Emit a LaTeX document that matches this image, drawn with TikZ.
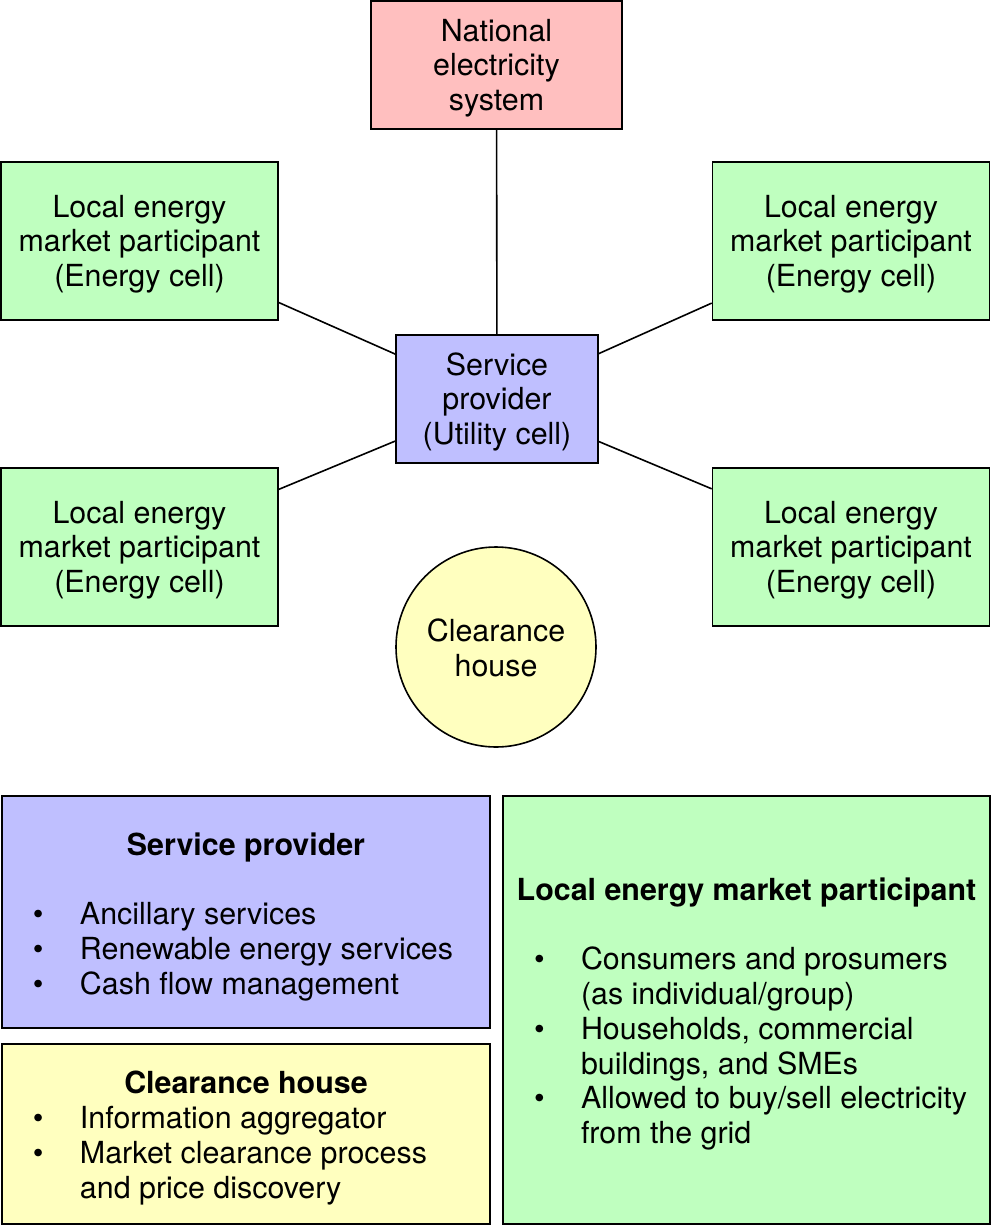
\documentclass[tikz,border=0pt]{standalone}
\usepackage{fontspec}
\setmainfont{TeX Gyre Heros}
\usepackage{array}
\usetikzlibrary{positioning}
\definecolor{natfill}{HTML}{FFBFBF}
\definecolor{cellfill}{HTML}{BFFFBF}
\definecolor{utilfill}{HTML}{BFBFFF}
\definecolor{clearfill}{HTML}{FFFFBF}
\newcommand{\bul}{\hspace{15.5pt}\textbullet}
\newcommand{\drop}[2][2pt]{\raisebox{-#1}[\height][\depth]{#2}}
\newcommand{\celltext}[2][2pt]{\drop[#1]{\begin{tabular}{@{}c@{}}#2\end{tabular}}}

\begin{document}
\begin{tikzpicture}[x=0.5pt, y=-0.5pt, line width=0.8pt,
    font=\fontsize{15.2}{17.4}\selectfont,
    box/.style={draw, rectangle, inner sep=0pt},
    cell/.style={box, fill=cellfill, minimum width=138.5pt, minimum height=79pt},
    info/.style={draw, rectangle, inner sep=0pt}]
  \useasboundingbox (0,0) rectangle (992,1226);
  % upper part
  \node[box, fill=natfill, minimum width=125.5pt, minimum height=64pt] (nat) at (496.5,65) {\celltext{National\\electricity\\system}};
  \node[box, fill=utilfill, minimum width=101pt, minimum height=64pt] (sp) at (497,399) {\celltext{Service\\provider\\(Utility cell)}};
  \node[cell] (lt) at (139.5,241) {\celltext{Local energy\\market participant\\(Energy cell)}};
  \node[cell] (rt) at (851,241) {\celltext{Local energy\\market participant\\(Energy cell)}};
  \node[cell] (lb) at (139.5,547) {\celltext{Local energy\\market participant\\(Energy cell)}};
  \node[cell] (rb) at (851,547) {\celltext{Local energy\\market participant\\(Energy cell)}};
  \node[draw, circle, fill=clearfill, minimum size=100pt, inner sep=0pt] (ch) at (496,647) {\celltext[2.6pt]{Clearance\\house}};
  \draw (nat) -- (sp);
  \draw (lt) -- (sp);
  \draw (rt) -- (sp);
  \draw (lb) -- (sp);
  \draw (rb) -- (sp);
  % legend boxes
  \node[info, fill=utilfill, minimum width=244pt, minimum height=116pt] (spinfo) at (246,912) {\drop[3pt]{%
    \begin{tabular}{@{}p{39pt}@{}p{205pt}@{}}
      \multicolumn{2}{@{}c@{}}{\bfseries Service provider}\\
      & \\
      \bul & Ancillary services\\
      \bul & Renewable energy services\\
      \bul & Cash flow management
    \end{tabular}}};
  \node[info, fill=clearfill, minimum width=244pt, minimum height=90pt] (chinfo) at (246,1134) {\drop[2.5pt]{%
    \begin{tabular}{@{}p{39pt}@{}p{205pt}@{}}
      \multicolumn{2}{@{}c@{}}{\bfseries Clearance house}\\
      \bul & Information aggregator\\
      \bul & Market clearance process\\
      & and price discovery
    \end{tabular}}};
  \node[info, fill=cellfill, minimum width=243.5pt, minimum height=214pt] (lminfo) at (746.5,1010) {\drop[2.5pt]{%
    \begin{tabular}{@{}p{39pt}@{}p{204.5pt}@{}}
      \multicolumn{2}{@{}c@{}}{\bfseries Local energy market participant}\\
      & \\
      \bul & Consumers and prosumers\\
      & (as individual/group)\\
      \bul & Households, commercial\\
      & buildings, and SMEs\\
      \bul & Allowed to buy/sell electricity\\
      & from the grid
    \end{tabular}}};
\end{tikzpicture}
\end{document}
